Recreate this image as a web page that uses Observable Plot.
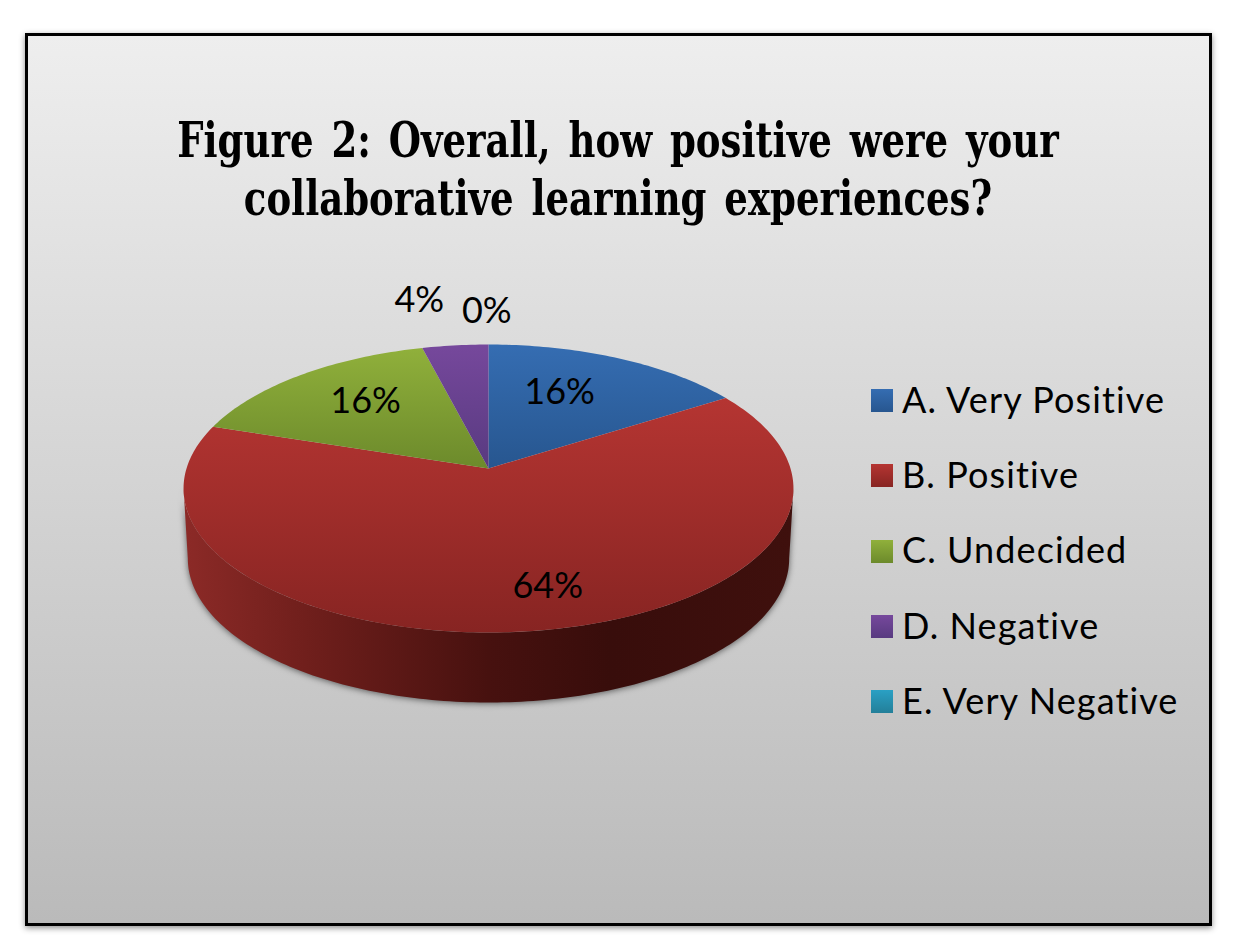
<!DOCTYPE html>
<html lang="en">
<head>
<meta charset="utf-8">
<title>Figure 2</title>
<script src="https://cdn.jsdelivr.net/npm/d3@7"></script>
<script src="https://cdn.jsdelivr.net/npm/@observablehq/plot@0.6"></script>
<style>
html,body{margin:0;padding:0;background:#fff;width:1238px;height:940px;overflow:hidden}
#frame{position:absolute;left:25px;top:33px;width:1181px;height:887px;border:3px solid #000;
  background:linear-gradient(#eeeeee,#bababa);box-shadow:0 2px 6px rgba(0,0,0,.45)}
#title{position:absolute;left:-100px;width:1436px;top:111px;text-align:center;color:#000;
  font:bold 49px/58px "DejaVu Serif",serif;font-stretch:condensed;word-spacing:6px;transform:scaleX(.84);transform-origin:50% 0;margin:0}
#chart{position:absolute;left:0;top:0}
#legend{position:absolute;left:871px;top:361px;font-family:Lato,sans-serif;font-size:36px;letter-spacing:1.1px;color:#000}
#legend .row{height:75.3px;display:flex;align-items:center;white-space:pre}
#legend .sw{width:22px;height:23px;margin-right:9px;flex:none;position:relative;top:2px}
.wall{filter:drop-shadow(0 1px 3px rgba(0,0,0,.55))}
</style>
</head>
<body>
<div id="frame"></div>
<h1 id="title"></h1>
<div id="chart"></div>
<div id="legend"></div>
<script>
// ---- data ----
const titleLines = ["Figure 2: Overall, how positive were your", "collaborative learning experiences?"];
const categories = ["A. Very Positive", "B. Positive", "C. Undecided", "D. Negative", "E. Very Negative"];
const percents = [16, 64, 16, 4, 0];

// ---- styles ----
const topColors = ["#356db2", "#b53532", "#90b03b", "#76489c", "#2aa0c4"];
const bottomColors = ["#27568f", "#872422", "#6c8a2b", "#583a80", "#237f99"];
const wallStops = [[0, "#8c2a27"], [0.2, "#701f1c"], [0.5, "#47110f"], [0.7, "#380d0b"], [1, "#3f100d"]];
const labelFont = "Lato, sans-serif";

// ---- pie geometry (perspective view of a disc; angles come from the percents) ----
const halfWidth = 302, halfDepth = 141.2, perspective = 0.139, wallDrop = 70, wallShrink = 0.986;
const project = (turn, radius) => {
  const a = turn * 2 * Math.PI, u = radius * Math.sin(a), v = radius * Math.cos(a), d = 1 + perspective * v;
  return [halfWidth * u / d, halfDepth * v / d];
};
const total = d3.sum(percents);
const cumulative = d3.cumsum(percents);
const slices = categories.map((category, i) => ({
  category,
  value: percents[i],
  start: (cumulative[i] - percents[i]) / total,
  end: cumulative[i] / total
}));
const arcBetween = (start, end) => d3.range(0, 1.0001, 1 / Math.max(2, Math.ceil((end - start) * 360))).map((f) => project(start + f * (end - start), 1));

const faces = slices.flatMap((s) => [[0, 0], ...arcBetween(s.start, s.end)].map(([x, y]) => ({category: s.category, x, y})));

// the wall shows only on the front of the disc, between its two widest points
const frontStart = Math.acos(-perspective) / (2 * Math.PI), frontEnd = 1 - frontStart;
const walls = slices.flatMap((s) => {
  const start = Math.max(s.start, frontStart), end = Math.min(s.end, frontEnd);
  if (end <= start) return [];
  const top = arcBetween(start, end);
  const low = top.map(([x, y]) => [x * wallShrink, y - wallDrop]).reverse();
  return [...top, ...low].map(([x, y]) => ({category: s.category, x, y}));
});

// where each percent label sits relative to its slice: radius, and turn away from the slice middle
const labelRadius = [0.635, 0.769, 0.669, 1.45, 1.315];
const labelTurn = [-0.0144, -0.0167, 0.0072, -0.0103, -0.0008];
const labels = slices.map((s, i) => {
  const [x, y] = project((s.start + s.end) / 2 + labelTurn[i], labelRadius[i]);
  return {text: `${s.value}%`, x, y};
});

const gradientDefs = () => {
  const g = d3.create("svg:g");
  const defs = g.append("defs");
  categories.forEach((c, i) => {
    const lg = defs.append("linearGradient").attr("id", `face${i}`).attr("x1", 0).attr("x2", 0).attr("y1", 0).attr("y2", 1);
    lg.append("stop").attr("offset", 0).attr("stop-color", topColors[i]);
    lg.append("stop").attr("offset", 1).attr("stop-color", bottomColors[i]);
  });
  const w = defs.append("linearGradient").attr("id", "wall").attr("x1", 0).attr("x2", 1).attr("y1", 0).attr("y2", 0);
  wallStops.forEach(([o, c]) => w.append("stop").attr("offset", o).attr("stop-color", c));
  return g.node();
};

const plot = Plot.plot({
  width: 1238,
  height: 940,
  margin: 0,
  style: {background: "transparent", overflow: "visible"},
  x: {domain: [-488, 750], axis: null},
  y: {domain: [-472, 468], axis: null},
  color: {domain: categories, range: categories.map((c, i) => `url(#face${i})`)},
  marks: [
    gradientDefs,
    Plot.line(walls, {x: "x", y: "y", z: "category", fill: "url(#wall)", strokeWidth: 0, curve: "linear", className: "wall"}),
    Plot.line(faces, {x: "x", y: "y", z: "category", fill: "category", strokeWidth: 0, curve: "linear"}),
    Plot.text(labels, {x: "x", y: "y", text: "text", fontFamily: labelFont, fontSize: 36, fill: "#000", textAnchor: "middle", lineAnchor: "middle"})
  ]
});
document.getElementById("chart").append(plot);

document.getElementById("title").innerHTML = titleLines.join("<br>");
const legend = d3.select("#legend");
categories.forEach((c, i) => {
  const row = legend.append("div").attr("class", "row");
  row.append("span").attr("class", "sw").style("background", `linear-gradient(${topColors[i]},${bottomColors[i]})`);
  row.append("span").text(c);
});
</script>
</body>
</html>
